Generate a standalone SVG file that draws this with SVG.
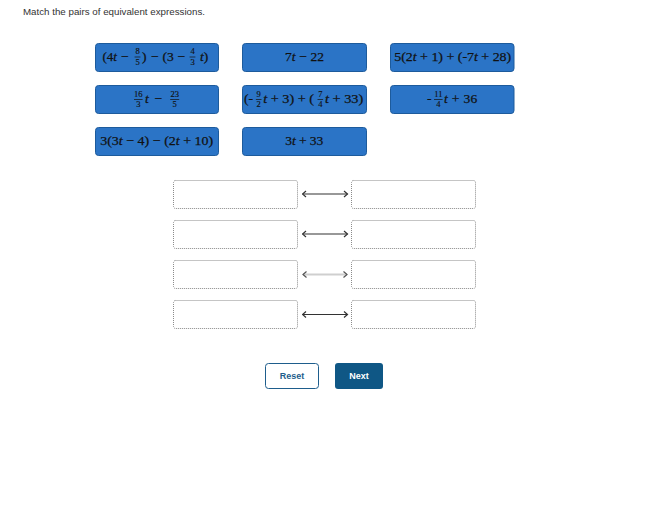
<svg xmlns="http://www.w3.org/2000/svg" width="655" height="515" viewBox="0 0 655 515">
<style>
.tile{fill:#2b74c6;stroke:#1d5b9c;stroke-width:1}
.m{font-family:"Liberation Serif","Times New Roman",serif;font-size:13.5px;fill:#111;stroke:#111;stroke-width:0.25}
.i{font-style:italic}
.f{font-family:"Liberation Serif","Times New Roman",serif;font-size:8.5px;fill:#111;stroke:#111;stroke-width:0.15;text-anchor:middle}
.bar{stroke:#111;stroke-width:0.7}
.c{text-anchor:middle}
.drop{fill:#fff;stroke:#8a8a8a;stroke-width:1;stroke-dasharray:1 1}
.arr{stroke:#333;stroke-width:1.2;fill:none}
.arr2{stroke:#cfcfcf;stroke-width:2;fill:none}
.title{font-family:"Liberation Sans",Arial,sans-serif;font-size:9.5px;fill:#333}
.btn{font-family:"Liberation Sans",Arial,sans-serif;font-size:9px;font-weight:bold;text-anchor:middle}
</style>
<defs>
<marker id="chev" viewBox="0 0 8 8" refX="7" refY="4" markerWidth="8" markerHeight="8" markerUnits="userSpaceOnUse" orient="auto-start-reverse">
<path d="M3.5,1 L7,4 L3.5,7" fill="none" stroke="#333" stroke-width="1.2"/>
</marker>
<marker id="chev2" viewBox="0 0 8 8" refX="7" refY="4" markerWidth="8" markerHeight="8" markerUnits="userSpaceOnUse" orient="auto-start-reverse">
<path d="M3.5,1 L7,4 L3.5,7" fill="none" stroke="#555" stroke-width="1.2"/>
</marker>
</defs>
<rect width="655" height="515" fill="#fff"/>
<text class="title" x="23" y="15" textLength="182" lengthAdjust="spacingAndGlyphs">Match the pairs of equivalent expressions.</text>

<g id="tile1">
<rect class="tile" x="95.5" y="43.5" width="123" height="28" rx="3"/>
<text class="m" x="102.5" y="60.5" textLength="14.5" lengthAdjust="spacingAndGlyphs">(4<tspan class="i">t</tspan></text>
<text class="m" x="121" y="60.5">−</text>
<text class="f" x="137.5" y="54">8</text><line class="bar" x1="134.6" y1="57" x2="140.4" y2="57"/><text class="f" x="137.5" y="64.5">5</text>
<text class="m" x="142" y="60.5">)</text>
<text class="m" x="151" y="60.5">−</text>
<text class="m" x="162.5" y="60.5">(3</text>
<text class="m" x="177.5" y="60.5">−</text>
<text class="f" x="192.5" y="54">4</text><line class="bar" x1="189.6" y1="57" x2="195.4" y2="57"/><text class="f" x="192.5" y="64.5">3</text>
<text class="m" x="200" y="60.5"><tspan class="i">t</tspan>)</text>
</g>

<g id="tile2">
<rect class="tile" x="242.5" y="43.5" width="124" height="28" rx="3"/>
<text class="m c" x="304.5" y="60.5" textLength="39" lengthAdjust="spacing">7<tspan class="i">t</tspan> − 22</text>
</g>

<g id="tile3">
<rect class="tile" x="390.5" y="43.5" width="123.5" height="28" rx="3"/>
<text class="m c" x="452.7" y="60.5" textLength="117" lengthAdjust="spacingAndGlyphs">5(2<tspan class="i">t</tspan> + 1) + (-7<tspan class="i">t</tspan> + 28)</text>
</g>

<g id="tile4">
<rect class="tile" x="95.5" y="85.5" width="123" height="28" rx="3"/>
<text class="f" x="138.3" y="96.6">16</text><line class="bar" x1="134" y1="99.5" x2="142.6" y2="99.5"/><text class="f" x="138.3" y="107.3">3</text>
<text class="m" x="145" y="102.5"><tspan class="i">t</tspan></text>
<text class="m" x="154.5" y="102.5">−</text>
<text class="f" x="174.7" y="96.6">23</text><line class="bar" x1="170.2" y1="99.5" x2="179.2" y2="99.5"/><text class="f" x="174.7" y="107.3">5</text>
</g>

<g id="tile5">
<rect class="tile" x="242.5" y="85.5" width="124" height="28" rx="3"/>
<text class="m" x="244" y="102.5">(-</text>
<text class="f" x="258.7" y="96.6">9</text><line class="bar" x1="255.9" y1="99.5" x2="261.5" y2="99.5"/><text class="f" x="258.7" y="107.3">2</text>
<text class="m" x="263.3" y="102.5" textLength="50.7" lengthAdjust="spacingAndGlyphs"><tspan class="i">t</tspan> + 3) + (</text>
<text class="f" x="320.3" y="96.6">7</text><line class="bar" x1="317.5" y1="99.5" x2="323.1" y2="99.5"/><text class="f" x="320.3" y="107.3">4</text>
<text class="m" x="325" y="102.5" textLength="38.3" lengthAdjust="spacingAndGlyphs"><tspan class="i">t</tspan> + 33)</text>
</g>

<g id="tile6">
<rect class="tile" x="390.5" y="85.5" width="123.5" height="28" rx="3"/>
<text class="m" x="427" y="102.5">-</text>
<text class="f" x="438.3" y="96.6">11</text><line class="bar" x1="434" y1="99.5" x2="442.6" y2="99.5"/><text class="f" x="438.3" y="107.3">4</text>
<text class="m" x="444" y="102.5" textLength="33.3" lengthAdjust="spacing"><tspan class="i">t</tspan> + 36</text>
</g>

<g id="tile7">
<rect class="tile" x="95.5" y="127.5" width="123" height="28" rx="3"/>
<text class="m c" x="156.7" y="144.5" textLength="113" lengthAdjust="spacingAndGlyphs">3(3<tspan class="i">t</tspan> − 4) − (2<tspan class="i">t</tspan> + 10)</text>
</g>

<g id="tile8">
<rect class="tile" x="242.5" y="127.5" width="124" height="28" rx="3"/>
<text class="m c" x="304.2" y="144.5" textLength="38" lengthAdjust="spacing">3<tspan class="i">t</tspan> + 33</text>
</g>

<g id="drop-l1"><rect class="drop" x="173.5" y="180.5" width="124" height="28" rx="2"/></g>
<g id="drop-r1"><rect class="drop" x="351.5" y="180.5" width="124" height="28" rx="2"/></g>
<g id="drop-l2"><rect class="drop" x="173.5" y="220.5" width="124" height="28" rx="2"/></g>
<g id="drop-r2"><rect class="drop" x="351.5" y="220.5" width="124" height="28" rx="2"/></g>
<g id="drop-l3"><rect class="drop" x="173.5" y="260.5" width="124" height="28" rx="2"/></g>
<g id="drop-r3"><rect class="drop" x="351.5" y="260.5" width="124" height="28" rx="2"/></g>
<g id="drop-l4"><rect class="drop" x="173.5" y="300.5" width="124" height="28" rx="2"/></g>
<g id="drop-r4"><rect class="drop" x="351.5" y="300.5" width="124" height="28" rx="2"/></g>

<g id="connectors">
<line class="arr" x1="302.5" y1="194" x2="347.5" y2="194" marker-start="url(#chev)" marker-end="url(#chev)"/>
<line class="arr" x1="302.5" y1="234" x2="347.5" y2="234" marker-start="url(#chev)" marker-end="url(#chev)"/>
<line class="arr2" x1="303" y1="274.5" x2="347" y2="274.5" marker-start="url(#chev2)" marker-end="url(#chev2)"/>
<line class="arr" x1="302.5" y1="314.5" x2="347.5" y2="314.5" marker-start="url(#chev)" marker-end="url(#chev)"/>
</g>

<g id="reset">
<rect x="265.5" y="363.5" width="53" height="25" rx="3" fill="#fff" stroke="#1e5d8c" stroke-width="1"/>
<text class="btn" x="292" y="379" fill="#1e5d8c">Reset</text>
</g>
<g id="next">
<rect x="335" y="363" width="48" height="26" rx="3" fill="#0f5785"/>
<text class="btn" x="359" y="379" fill="#fff">Next</text>
</g>
</svg>
